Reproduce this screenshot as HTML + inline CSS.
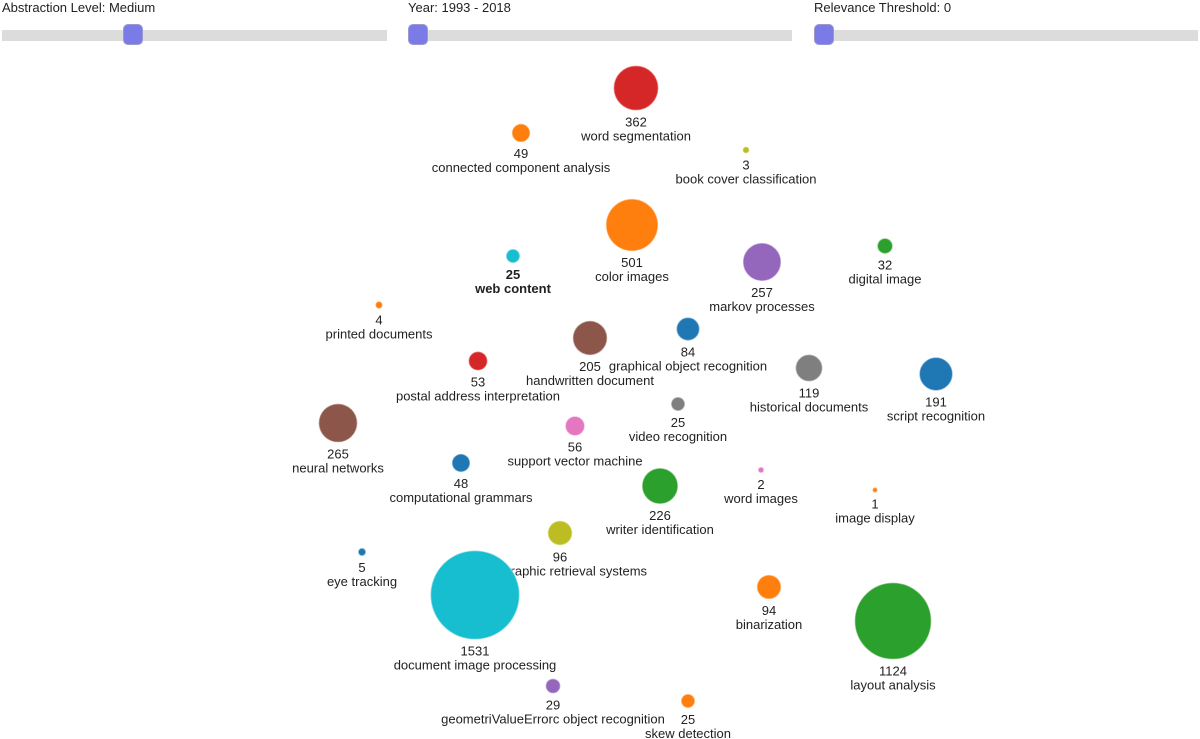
<!DOCTYPE html>
<html><head><meta charset="utf-8">
<style>
body{margin:0;width:1200px;height:739px;background:#fff;font-family:"Liberation Sans",Arial,sans-serif;overflow:hidden;position:relative}
.lbl{position:absolute;top:0;font-size:13px;color:#222}
.track{position:absolute;top:30px;height:11px;background:#dcdcdc}
.thumb{position:absolute;top:24px;width:20px;height:21px;background:#7b7be8;border:1px solid #9a9ad0;border-radius:5px;box-sizing:border-box}
svg{position:absolute;left:0;top:0}
text{font-family:"Liberation Sans",Arial,sans-serif;font-size:13px;fill:#222}
</style></head><body>
<div class="lbl" style="left:2px">Abstraction Level: Medium</div>
<div class="track" style="left:2px;width:385px"></div>
<div class="thumb" style="left:123px"></div>
<div class="lbl" style="left:408px">Year: 1993 - 2018</div>
<div class="track" style="left:408px;width:384px"></div>
<div class="thumb" style="left:408px"></div>
<div class="lbl" style="left:814px">Relevance Threshold: 0</div>
<div class="track" style="left:814px;width:384px"></div>
<div class="thumb" style="left:814px"></div>
<svg id="chart" width="1200" height="739"></svg>
<script>
const names=["word segmentation","connected component analysis","book cover classification","color images","web content","digital image","markov processes","printed documents","handwritten document","graphical object recognition","postal address interpretation","historical documents","script recognition","video recognition","neural networks","support vector machine","computational grammars","word images","image display","writer identification","bibliographic retrieval systems","eye tracking","document image processing","binarization","layout analysis","geometriValueErrorc object recognition","skew detection"];
const counts=[362,49,3,501,25,32,257,4,205,84,53,119,191,25,265,56,48,2,1,226,96,5,1531,94,1124,29,25];
const xs=[636,521,746,632,513,885,762,379,590,688,478,809,936,678,338,575,461,761,875,660,560,362,475,769,893,553,688];
const ys=[88,133,150,225,256,246,262,305,338,329,361,368,374,404,423,426,463,470,490,486,533,552,595,587,621,686,701];
const colors=["#d62728","#ff7f0e","#bcbd22","#ff7f0e","#17becf","#2ca02c","#9467bd","#ff7f0e","#8c564b","#1f77b4","#d62728","#7f7f7f","#1f77b4","#7f7f7f","#8c564b","#e377c2","#1f77b4","#e377c2","#ff7f0e","#2ca02c","#bcbd22","#1f77b4","#17becf","#ff7f0e","#2ca02c","#9467bd","#ff7f0e"];
const boldIdx=[4];
const svg=document.getElementById('chart');
const NS='http://www.w3.org/2000/svg';
function rScale(v){return 1.1*Math.sqrt(v)+1.5;}
names.forEach((n,i)=>{
  const g=document.createElementNS(NS,'g');
  
  
  const r=rScale(counts[i]);
  const c=document.createElementNS(NS,'circle');
  
  
  c.setAttribute('cx',xs[i]);c.setAttribute('cy',ys[i]);c.setAttribute('r',r);
  c.setAttribute('fill',colors[i]);c.setAttribute('stroke','rgba(255,255,255,0.5)');c.setAttribute('stroke-width','1.5');
  const bold=boldIdx.includes(i);
  const t1=document.createElementNS(NS,'text');
  
  
  t1.setAttribute('x',xs[i]);t1.setAttribute('y',ys[i]+r+16);t1.setAttribute('text-anchor','middle');
  if(bold)t1.setAttribute('font-weight','bold');
  t1.textContent=counts[i];
  const t2=document.createElementNS(NS,'text');
  
  
  t2.setAttribute('x',xs[i]);t2.setAttribute('y',ys[i]+r+30);t2.setAttribute('text-anchor','middle');
  if(bold)t2.setAttribute('font-weight','bold');
  t2.textContent=n;
  g.appendChild(t1);g.appendChild(t2);g.appendChild(c);
  svg.appendChild(g);
});
</script>
</body></html>
